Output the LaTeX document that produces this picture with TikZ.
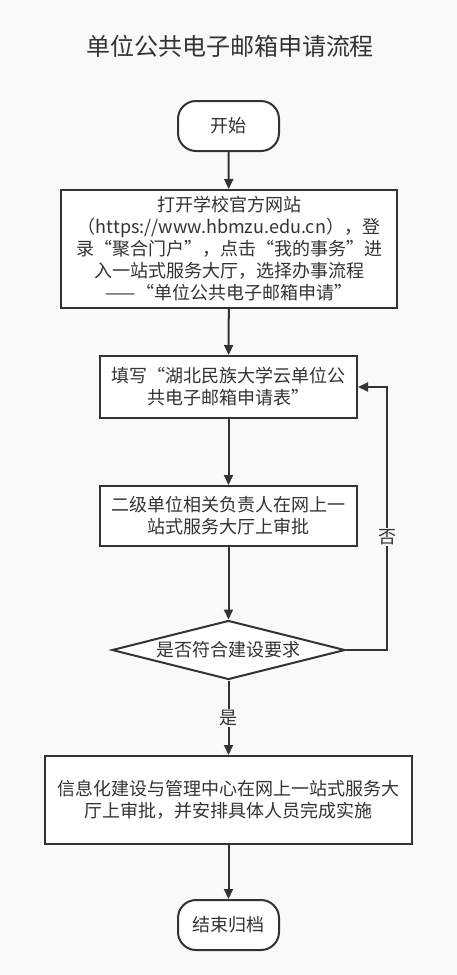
\documentclass[tikz,border=0pt]{standalone}
\usepackage{fontspec}
\setmainfont{Noto Sans CJK SC}
\usetikzlibrary{arrows.meta,shapes.geometric}
\definecolor{bg}{HTML}{F9F9F9}
\definecolor{ink}{HTML}{333333}
\tikzset{
  base/.style={draw=ink,line width=2pt,fill=white,text=ink,inner sep=0pt,align=center,
    font=\fontsize{18}{22}\selectfont},
  term/.style={base,rounded corners=18pt,minimum width=101pt,minimum height=50pt},
  proc/.style={base},
  dec/.style={base,diamond,aspect=3.95,minimum width=233pt,minimum height=59pt},
  arr/.style={draw=ink,line width=2pt,-{Triangle[length=10pt,width=9pt]}},
  lab/.style={fill=bg,text=ink,inner sep=1pt,font=\fontsize{18}{22}\selectfont}
}
\begin{document}
\begin{tikzpicture}[x=1pt,y=-1pt]
\fill[bg] (0,0) rectangle (457,975);
\useasboundingbox (0,0) rectangle (457,975);
\node[text=ink,font=\fontsize{24}{28}\selectfont] (title) at (230,46) {单位公共电子邮箱申请流程};
\node[term] (start) at (228.5,126) {开始};
\node[proc,minimum width=336pt,minimum height=118pt] (b1) at (229,249)
  {打开学校官方网站\\（https://www.hbmzu.edu.cn），登\\录“聚合门户”，点击“我的事务”进\\入一站式服务大厅，选择办事流程\\——“单位公共电子邮箱申请”};
\node[proc,minimum width=257pt,minimum height=62pt] (b2) at (228.5,387)
  {填写“湖北民族大学云单位公\\共电子邮箱申请表”};
\node[proc,minimum width=257pt,minimum height=60pt] (b3) at (228.5,516)
  {二级单位相关负责人在网上一\\站式服务大厅上审批};
\node[dec] (dia) at (228.5,650) {是否符合建设要求};
\node[proc,minimum width=367pt,minimum height=88pt] (b4) at (228.5,800)
  {信息化建设与管理中心在网上一站式服务大\\厅上审批，并安排具体人员完成实施};
\node[term] (end) at (228.5,925) {结束归档};
\coordinate (c1) at (387,650);
\coordinate (c2) at (387,387);
\draw[arr] (start) -- (b1);
\draw[arr] (b1) -- (b2);
\draw[arr] (b2) -- (b3);
\draw[arr] (b3) -- (dia);
\draw[arr] (dia) -- node[lab] (yes) {是} (b4);
\draw[arr] (b4) -- (end);
\draw[arr] (dia.east) -- (c1) -- node[lab,pos=0.43] (no) {否} (c2) -- (b2.east);
\end{tikzpicture}
\end{document}
